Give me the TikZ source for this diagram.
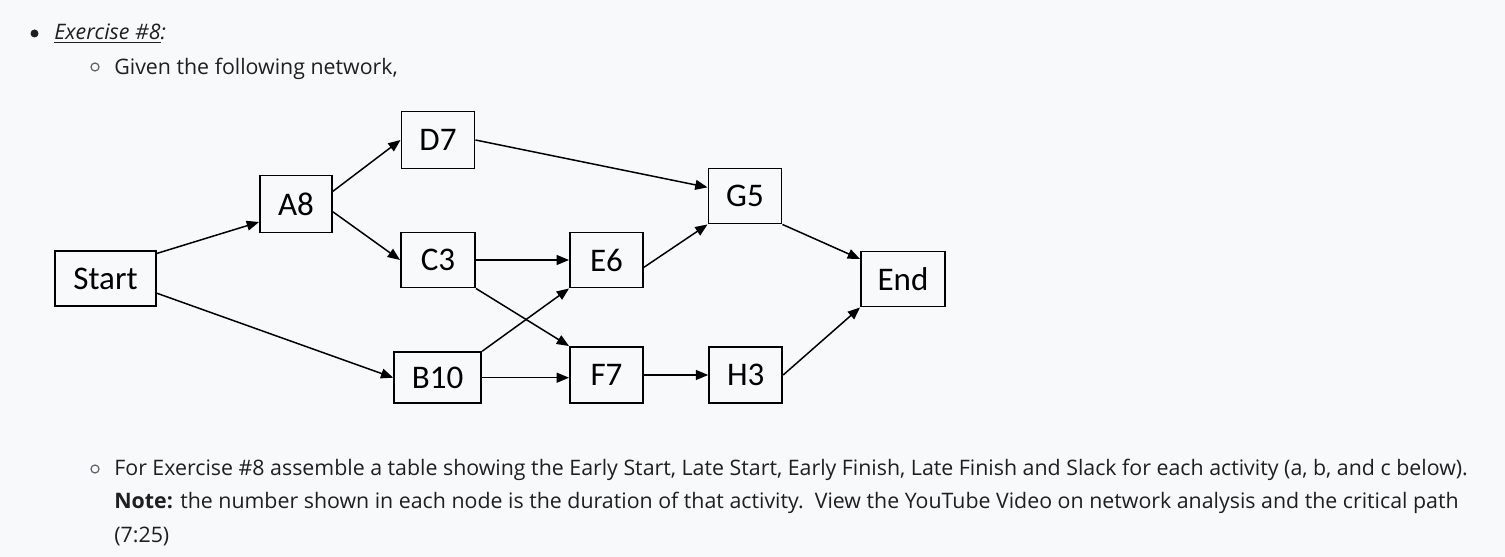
\documentclass[tikz,border=0pt]{standalone}
\usepackage{fontspec}
\setmainfont{Open Sans}
\newfontfamily\boxfont{Carlito}
\usetikzlibrary{arrows.meta,positioning,calc}
\definecolor{Page}{HTML}{F8F9FA}
\definecolor{Ink}{HTML}{1F1F1F}
\definecolor{Ring}{HTML}{5F6368}

\begin{document}
\begin{tikzpicture}[x=0.02cm,y=-0.02cm,>={Triangle[length=7pt,width=5.6pt]},
    act/.style={draw,line width=1.1pt,minimum height=1.1cm,inner sep=0pt,
      font=\boxfont\fontsize{18.8}{20}\selectfont},
    link/.style={->,line width=0.85pt},
    body/.style={anchor=base west,inner sep=0pt,text=Ink,align=left,
      font=\fontsize{12.15}{18.8}\selectfont}]
    \fill[Page] (0,0) rectangle (1505,557);

    % bullets and text
    \fill[Ink] (34.5,33.5) circle (4);
    \node[body] (title) at (54,40) {\underline{\textit{Exercise \#8}}\textit{:}};
    \draw[Ring,line width=0.7pt] (95,67) circle (4);
    \node[body] (given) at (114,75) {Given the following network,};
    \draw[Ring,line width=0.7pt] (95,469) circle (4);
    \node[body] (task) at (114,542) {For Exercise \#8 assemble a table showing the Early Start, Late Start, Early Finish, Late Finish and Slack for each activity (a, b, and c below).\\
      \textbf{Note:} the number shown in each node is the duration of that activity.\ \ View the YouTube Video on network analysis and the critical path\\
      (7:25)};

    % activities
    \node[act,minimum width=2.02cm] (start) at (105.5,278.5) {Start};
    \node[act,minimum width=1.44cm,minimum height=1.14cm] (a8) at (296,204) {A8};
    \node[act,minimum width=1.46cm,minimum height=1.14cm] (d7) at (438,140) {D7};
    \node[act,minimum width=1.48cm] (c3) at (438,260) {C3};
    \node[act,minimum width=1.74cm,minimum height=1.02cm] (b10) at (437.7,377.7) {B10};
    \node[act,minimum width=1.46cm] (e6) at (606.5,260) {E6};
    \node[act,minimum width=1.46cm,minimum height=1.12cm] (f7) at (606.5,375) {F7};
    \node[act,minimum width=1.46cm] (g5) at (745,196) {G5};
    \node[act,minimum width=1.46cm,minimum height=1.12cm] (h3) at (745.7,375) {H3};
    \node[act,minimum width=1.68cm] (end) at (903,279) {End};

    % precedence links
    \draw[link] (start.26) -- (a8.206);
    \draw[link] (start.-16) -- (b10.west);
    \draw[link] (a8.19) -- (d7.west);
    \draw[link] (a8.-12) -- (c3.west);
    \draw[link] (d7.east) -- (g5.167);
    \draw[link] (c3.east) -- (e6.west);
    \draw[link] (c3.south east) -- (f7.north west);
    \draw[link] (b10.north east) -- (e6.south west);
    \draw[link] (b10.east) -- (b10.east -| f7.west);
    \draw[link] (e6.-11) -- (g5.south west);
    \draw[link] (f7.east) -- (h3.west);
    \draw[link] (g5.south east) -- (end.155);
    \draw[link] (h3.east) -- (end.south west);
\end{tikzpicture}
\end{document}
